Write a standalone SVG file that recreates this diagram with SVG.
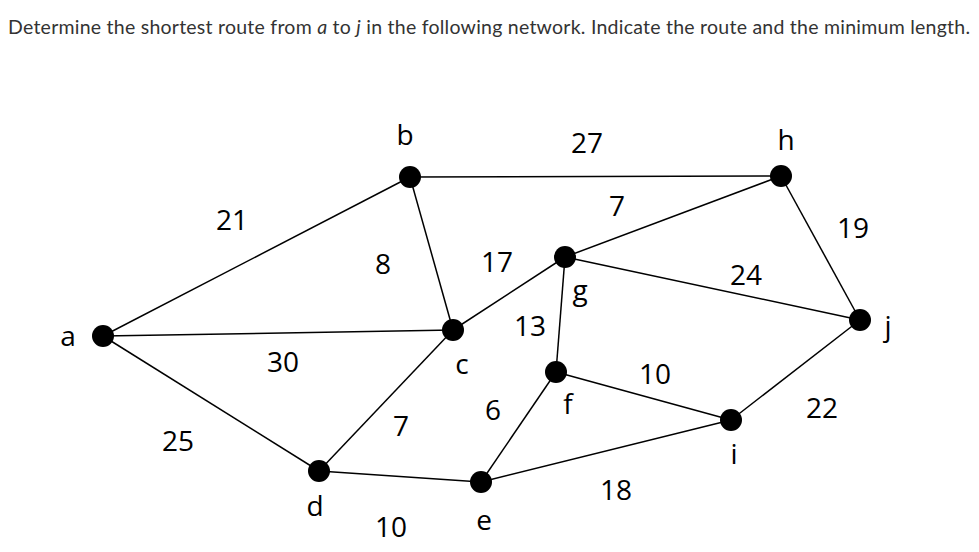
<svg xmlns="http://www.w3.org/2000/svg" width="979" height="552" viewBox="0 0 979 552">
<style>
.t{font-family:Lato,"Liberation Sans",sans-serif;font-size:19.5px;fill:#333}
.l{font-family:"Open Sans","Liberation Sans",sans-serif;font-size:28px;fill:#000;text-anchor:middle}
line{stroke:#000;stroke-width:1.5}
circle{fill:#000}
</style>
<rect width="979" height="552" fill="#fff"/>
<text class="t" x="8" y="34" textLength="962" lengthAdjust="spacing">Determine the shortest route from <tspan font-style="italic">a</tspan> to <tspan font-style="italic">j</tspan> in the following network.  Indicate the route and the minimum length.</text>
<g id="connectors">
<line x1="103" y1="336" x2="410" y2="177"/>
<line x1="103" y1="336" x2="453" y2="330"/>
<line x1="103" y1="336" x2="319" y2="471"/>
<line x1="410" y1="177" x2="781" y2="176"/>
<line x1="410" y1="177" x2="453" y2="330"/>
<line x1="565" y1="257" x2="781" y2="176"/>
<line x1="781" y1="176" x2="860" y2="320"/>
<line x1="565" y1="257" x2="860" y2="320"/>
<line x1="453" y1="330" x2="565" y2="257"/>
<line x1="565" y1="257" x2="556" y2="372"/>
<line x1="453" y1="330" x2="319" y2="471"/>
<line x1="556" y1="372" x2="481" y2="482"/>
<line x1="556" y1="372" x2="731" y2="420"/>
<line x1="319" y1="471" x2="481" y2="482"/>
<line x1="481" y1="482" x2="731" y2="420"/>
<line x1="731" y1="420" x2="860" y2="320"/>
</g>
<g id="node-a"><circle cx="103" cy="336" r="11"/><text class="l" x="68" y="346">a</text></g>
<g id="node-b"><circle cx="410" cy="177" r="11"/><text class="l" x="405" y="145">b</text></g>
<g id="node-h"><circle cx="781" cy="176" r="11"/><text class="l" x="786" y="150">h</text></g>
<g id="node-g"><circle cx="565" cy="257" r="11"/><text class="l" x="580" y="300">g</text></g>
<g id="node-c"><circle cx="453" cy="330" r="11"/><text class="l" x="462" y="374">c</text></g>
<g id="node-j"><circle cx="860" cy="320" r="11"/><text class="l" x="888" y="336">j</text></g>
<g id="node-f"><circle cx="556" cy="372" r="11"/><text class="l" x="568" y="414">f</text></g>
<g id="node-i"><circle cx="731" cy="420" r="11"/><text class="l" x="734" y="464">i</text></g>
<g id="node-d"><circle cx="319" cy="471" r="11"/><text class="l" x="315" y="516">d</text></g>
<g id="node-e"><circle cx="481" cy="482" r="11"/><text class="l" x="484" y="530">e</text></g>
<g id="labels">
<text class="l" x="232" y="230">21</text>
<text class="l" x="283" y="372">30</text>
<text class="l" x="178" y="451">25</text>
<text class="l" x="587" y="153">27</text>
<text class="l" x="383" y="274">8</text>
<text class="l" x="497" y="272">17</text>
<text class="l" x="617" y="216">7</text>
<text class="l" x="853" y="238">19</text>
<text class="l" x="746" y="285">24</text>
<text class="l" x="530" y="336">13</text>
<text class="l" x="401" y="436">7</text>
<text class="l" x="493" y="420">6</text>
<text class="l" x="655" y="384">10</text>
<text class="l" x="822" y="418">22</text>
<text class="l" x="616" y="500">18</text>
<text class="l" x="391" y="537">10</text>
</g>
</svg>
